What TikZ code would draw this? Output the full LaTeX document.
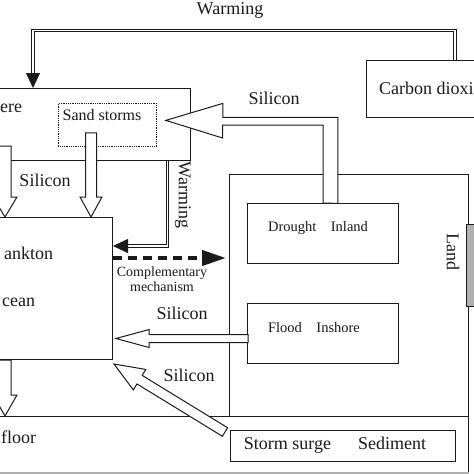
\documentclass[tikz,border=0pt]{standalone}
\usepackage{fontspec}
\setmainfont{Liberation Serif}
\usepackage{xcolor}
\definecolor{inkBlack}{HTML}{1A1A1A}
\definecolor{scanGray}{HTML}{B0B0B0}
\usetikzlibrary{positioning,calc,arrows.meta}
\tikzset{%
  plainBox/.style={%
    rectangle,
    draw=inkBlack,
    fill=white,
    line width=1pt,
    inner sep=0pt,
    anchor=north west
  },
  dotBox/.style={%
    rectangle,
    draw=inkBlack,
    densely dotted,
    line width=0.8pt,
    inner sep=0pt,
    anchor=north west
  },
  boxText/.style={%
    inner sep=0pt,
    text=inkBlack,
    font=\fontsize{18pt}{21pt}\selectfont
  },
  smallText/.style={%
    inner sep=0pt,
    text=inkBlack,
    font=\fontsize{14.5pt}{16pt}\selectfont
  },
  compText/.style={%
    inner sep=0pt,
    align=center,
    text=inkBlack,
    font=\fontsize{14pt}{14.5pt}\selectfont
  },
  warmLine/.style={%
    draw=inkBlack,
    line width=0.8pt,
    double=white,
    double distance=1.6pt,
    -{Triangle[length=15pt,width=14pt]}
  },
  dashArrow/.style={%
    draw=inkBlack,
    line width=4pt,
    dash pattern=on 9pt off 6pt,
    -{Triangle[length=24pt,width=15pt]}
  },
  hollowLine/.style={%
    draw=inkBlack,
    fill=white,
    line width=1pt,
    line join=miter
  }
}
% hollow block arrow: tail, tip, shaft half width, head half width, head length
\newcommand{\hollowArrow}[5]{%
  \coordinate (hbase) at ($(#2)!#5!(#1)$);
  \draw[hollowLine] ($(#1)!#3!90:(#2)$) -- ($(hbase)!#3!90:(#2)$)
    -- ($(hbase)!#4!90:(#2)$) -- (#2) -- ($(hbase)!#4!-90:(#2)$)
    -- ($(hbase)!#3!-90:(#2)$) -- ($(#1)!#3!-90:(#2)$) -- cycle;
}

\begin{document}
\begin{tikzpicture}[x=1pt,y=-1pt]
  \useasboundingbox (0,0) rectangle (474,474);
  \clip (0,0) rectangle (474,474);

  % boxes
  \node[plainBox, minimum width=210pt, minimum height=72pt] (atmo) at (-20,88) {};
  \node[dotBox, minimum width=98pt, minimum height=43pt] (sand) at (58,103) {};
  \node[plainBox, minimum width=130pt, minimum height=57pt] (co2) at (366,60) {};
  \node[plainBox, minimum width=132pt, minimum height=142pt] (ocean) at (-20,217) {};
  \node[plainBox, minimum width=488pt, minimum height=56pt] (sea) at (-20,416) {};
  \node[plainBox, minimum width=239pt, minimum height=242pt] (land) at (229,174) {};
  \node[plainBox, minimum width=151pt, minimum height=60pt] (drought) at (247,203) {};
  \node[plainBox, minimum width=151pt, minimum height=60pt] (flood) at (247,303) {};
  \node[plainBox, minimum width=225pt, minimum height=31pt] (storm) at (230,430) {};
  \node[plainBox, fill=scanGray, minimum width=10pt, minimum height=82pt] (landBar) at (466,224) {};
  \draw[scanGray, line width=3pt] (sea.south west) -- (sea.south east);

  % texts
  \node[boxText, anchor=west] (atmoLbl) at (0,108) {ere};
  \node[boxText, font=\fontsize{16pt}{18pt}\selectfont] (sandLbl) at (102,115) {Sand storms};
  \node[boxText, anchor=west] (co2Lbl) at (379,88) {Carbon dioxi};
  \node[boxText, anchor=west] (oceanLbl) at (4,253) {ankton};
  \node[boxText, anchor=west] (oceanLblB) at (2,302) {cean};
  \node[boxText, anchor=west] (seaLbl) at (1,437) {floor};
  \node[smallText] (droughtLbl) at (318,228) {Drought\quad Inland};
  \node[smallText] (floodLbl) at (314,328) {Flood\quad Inshore};
  \node[boxText] (stormLbl) at (335,445) {Storm surge\hspace{27pt}Sediment};
  \node[boxText, rotate=-90] (landLbl) at (453,252) {Land};
  \node[boxText] (warmTop) at (230,10) {Warming};
  \node[boxText, rotate=-90] (warmSide) at (183,195) {Warming};
  \node[compText] (compLbl) at (162,279) {Complementary\\mechanism};
  \node[boxText] (siA) at (274,98) {Silicon};
  \node[boxText] (siB) at (45,180) {Silicon};
  \node[boxText] (siC) at (182,313) {Silicon};
  \node[boxText] (siD) at (189,375) {Silicon};

  % warming links
  \coordinate (wTop) at (33,30.5);
  \draw[warmLine] ($(co2.north west)+(89,0)$) |- (wTop) -- (wTop |- atmo.north);
  \coordinate (wSide) at (167.5,246);
  \draw[warmLine] (wSide |- atmo.south) -- (wSide) -- (wSide -| ocean.east);

  % complementary mechanism
  \coordinate (cmStart) at (ocean.east |- 0,258);
  \draw[dashArrow, shorten >=3pt] (cmStart) -- (cmStart -| land.west);

  % silicon from land up to the sand storms
  \draw[hollowLine] (drought.north) -- ++(0,-78) -- ++(-100.5,0) -- ++(0,13)
    -- ($(sand.east)+(9,-4.5)$) -- ++(57,-17) -- ++(0,14) -- ++(115,0) -- ++(0,86) -- cycle;

  % silicon down into the ocean
  \coordinate (ssTail) at ($(sand.south west)+(33,-14)$);
  \coordinate (ssTip) at (ssTail |- ocean.north);
  \hollowArrow{ssTail}{ssTip}{5.5pt}{11pt}{20pt}
  \coordinate (leftTail) at (5,146);
  \coordinate (leftTip) at (leftTail |- ocean.north);
  \hollowArrow{leftTail}{leftTip}{6pt}{12pt}{20pt}
  \coordinate (floorTail) at (leftTail |- ocean.south);
  \coordinate (floorTip) at (leftTail |- sea.north);
  \hollowArrow{floorTail}{floorTip}{6pt}{12pt}{21pt}

  % silicon from inshore and storm surge
  \coordinate (floodTail) at ($(flood.west)+(1,5)$);
  \coordinate (floodTip) at ($(ocean.east |- floodTail)+(3,0)$);
  \hollowArrow{floodTail}{floodTip}{4pt}{9pt}{33pt}
  \coordinate (stormTail) at ($(storm.north west)+(-5,2)$);
  \coordinate (stormTip) at ($(ocean.south east)+(1,4)$);
  \hollowArrow{stormTail}{stormTip}{5pt}{12pt}{30pt}
\end{tikzpicture}
\end{document}
